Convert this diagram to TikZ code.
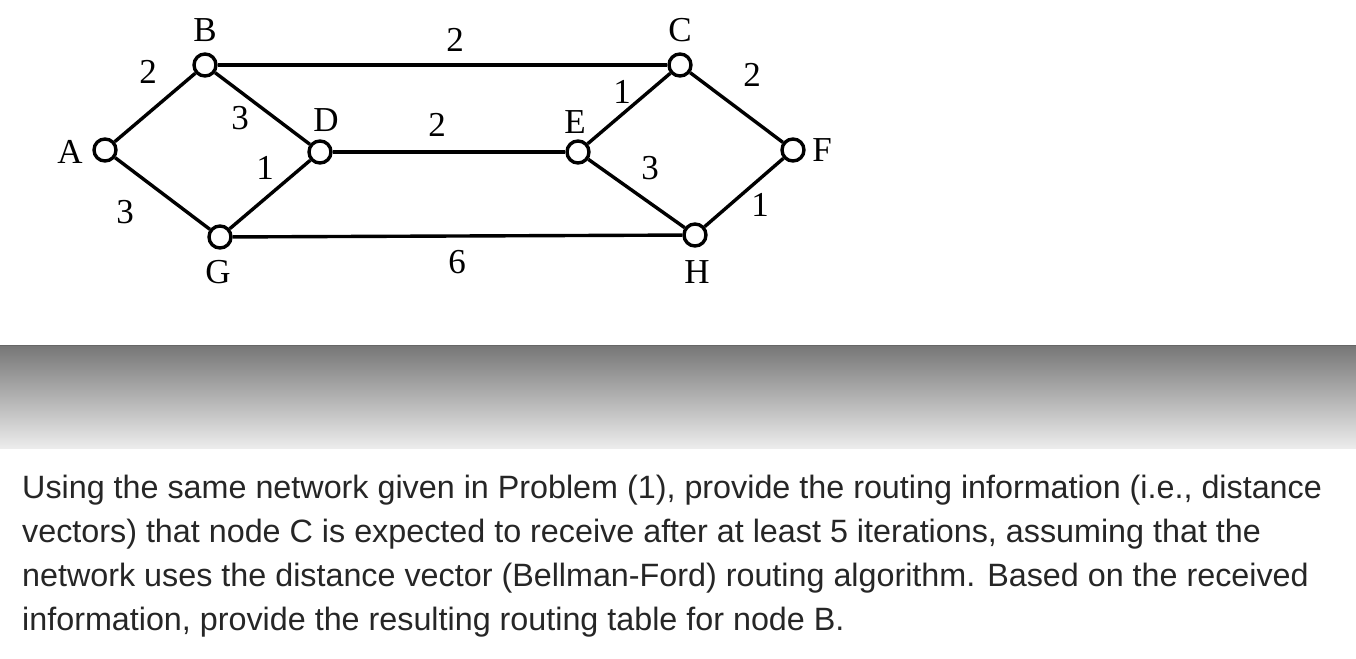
\documentclass[tikz,border=0pt]{standalone}
\usepackage{fontspec}
\setmainfont{Liberation Serif}
\newfontfamily\txtfont{Liberation Sans}
\begin{document}
\begin{tikzpicture}[x=1pt,y=-1pt,
  vert/.style={circle,draw,line width=3.4pt,minimum size=22pt,inner sep=0pt,fill=white},
  edge/.style={line width=3.4pt},
  lab/.style={font=\fontsize{35}{35}\selectfont,inner sep=0pt},
  para/.style={font=\txtfont\fontsize{32.3}{32.3}\selectfont,anchor=base west,inner sep=0pt,text=black!85}]
\useasboundingbox (0,0) rectangle (1356,658);
\fill[white] (0,0) rectangle (1356,658);
\shade[top color={rgb,255:red,118;green,118;blue,118},bottom color={rgb,255:red,236;green,236;blue,236}] (0,345) rectangle (1356,448);
\draw[black!60,line width=0.8pt] (0,345) -- (1356,345);
\node[vert] (A) at (105,150) {};
\node[vert] (B) at (205,65) {};
\node[vert] (C) at (680,65) {};
\node[vert] (D) at (320,152) {};
\node[vert] (E) at (578,152) {};
\node[vert] (F) at (793,150) {};
\node[vert] (G) at (220,237) {};
\node[vert] (H) at (695,235) {};
\draw[edge] (A) -- (B); \draw[edge] (A) -- (G);
\draw[edge] (B) -- (C); \draw[edge] (B) -- (D);
\draw[edge] (G) -- (D); \draw[edge] (D) -- (E);
\draw[edge] (G) -- (H); \draw[edge] (E) -- (C);
\draw[edge] (E) -- (H); \draw[edge] (C) -- (F);
\draw[edge] (H) -- (F);
\node[lab] (lA) at (70,152) {A};
\node[lab] (lB) at (205,30) {B};
\node[lab] (lC) at (680,30) {C};
\node[lab] (lD) at (326,120) {D};
\node[lab] (lE) at (575,122) {E};
\node[lab] (lF) at (822,150) {F};
\node[lab] (lG) at (218,272) {G};
\node[lab] (lH) at (697,272) {H};
\node[lab] (w1) at (148,72) {2};
\node[lab] (w2) at (125,212) {3};
\node[lab] (w3) at (240,118) {3};
\node[lab] (w4) at (265,168) {1};
\node[lab] (w5) at (455,40) {2};
\node[lab] (w6) at (437,125) {2};
\node[lab] (w7) at (457,262) {6};
\node[lab] (w8) at (622,92) {1};
\node[lab] (w9) at (650,168) {3};
\node[lab] (w10) at (752,75) {2};
\node[lab] (w11) at (760,205) {1};
\node[para] (t1) at (22,498) {Using the same network given in Problem (1), provide the routing information (i.e., distance};
\node[para] (t2) at (22,542) {vectors) that node C is expected to receive after at least 5 iterations, assuming that the};
\node[para] (t3) at (22,586) {network uses the distance vector (Bellman-Ford) routing algorithm. Based on the received};
\node[para] (t4) at (22,630) {information, provide the resulting routing table for node B.};
\end{tikzpicture}
\end{document}
